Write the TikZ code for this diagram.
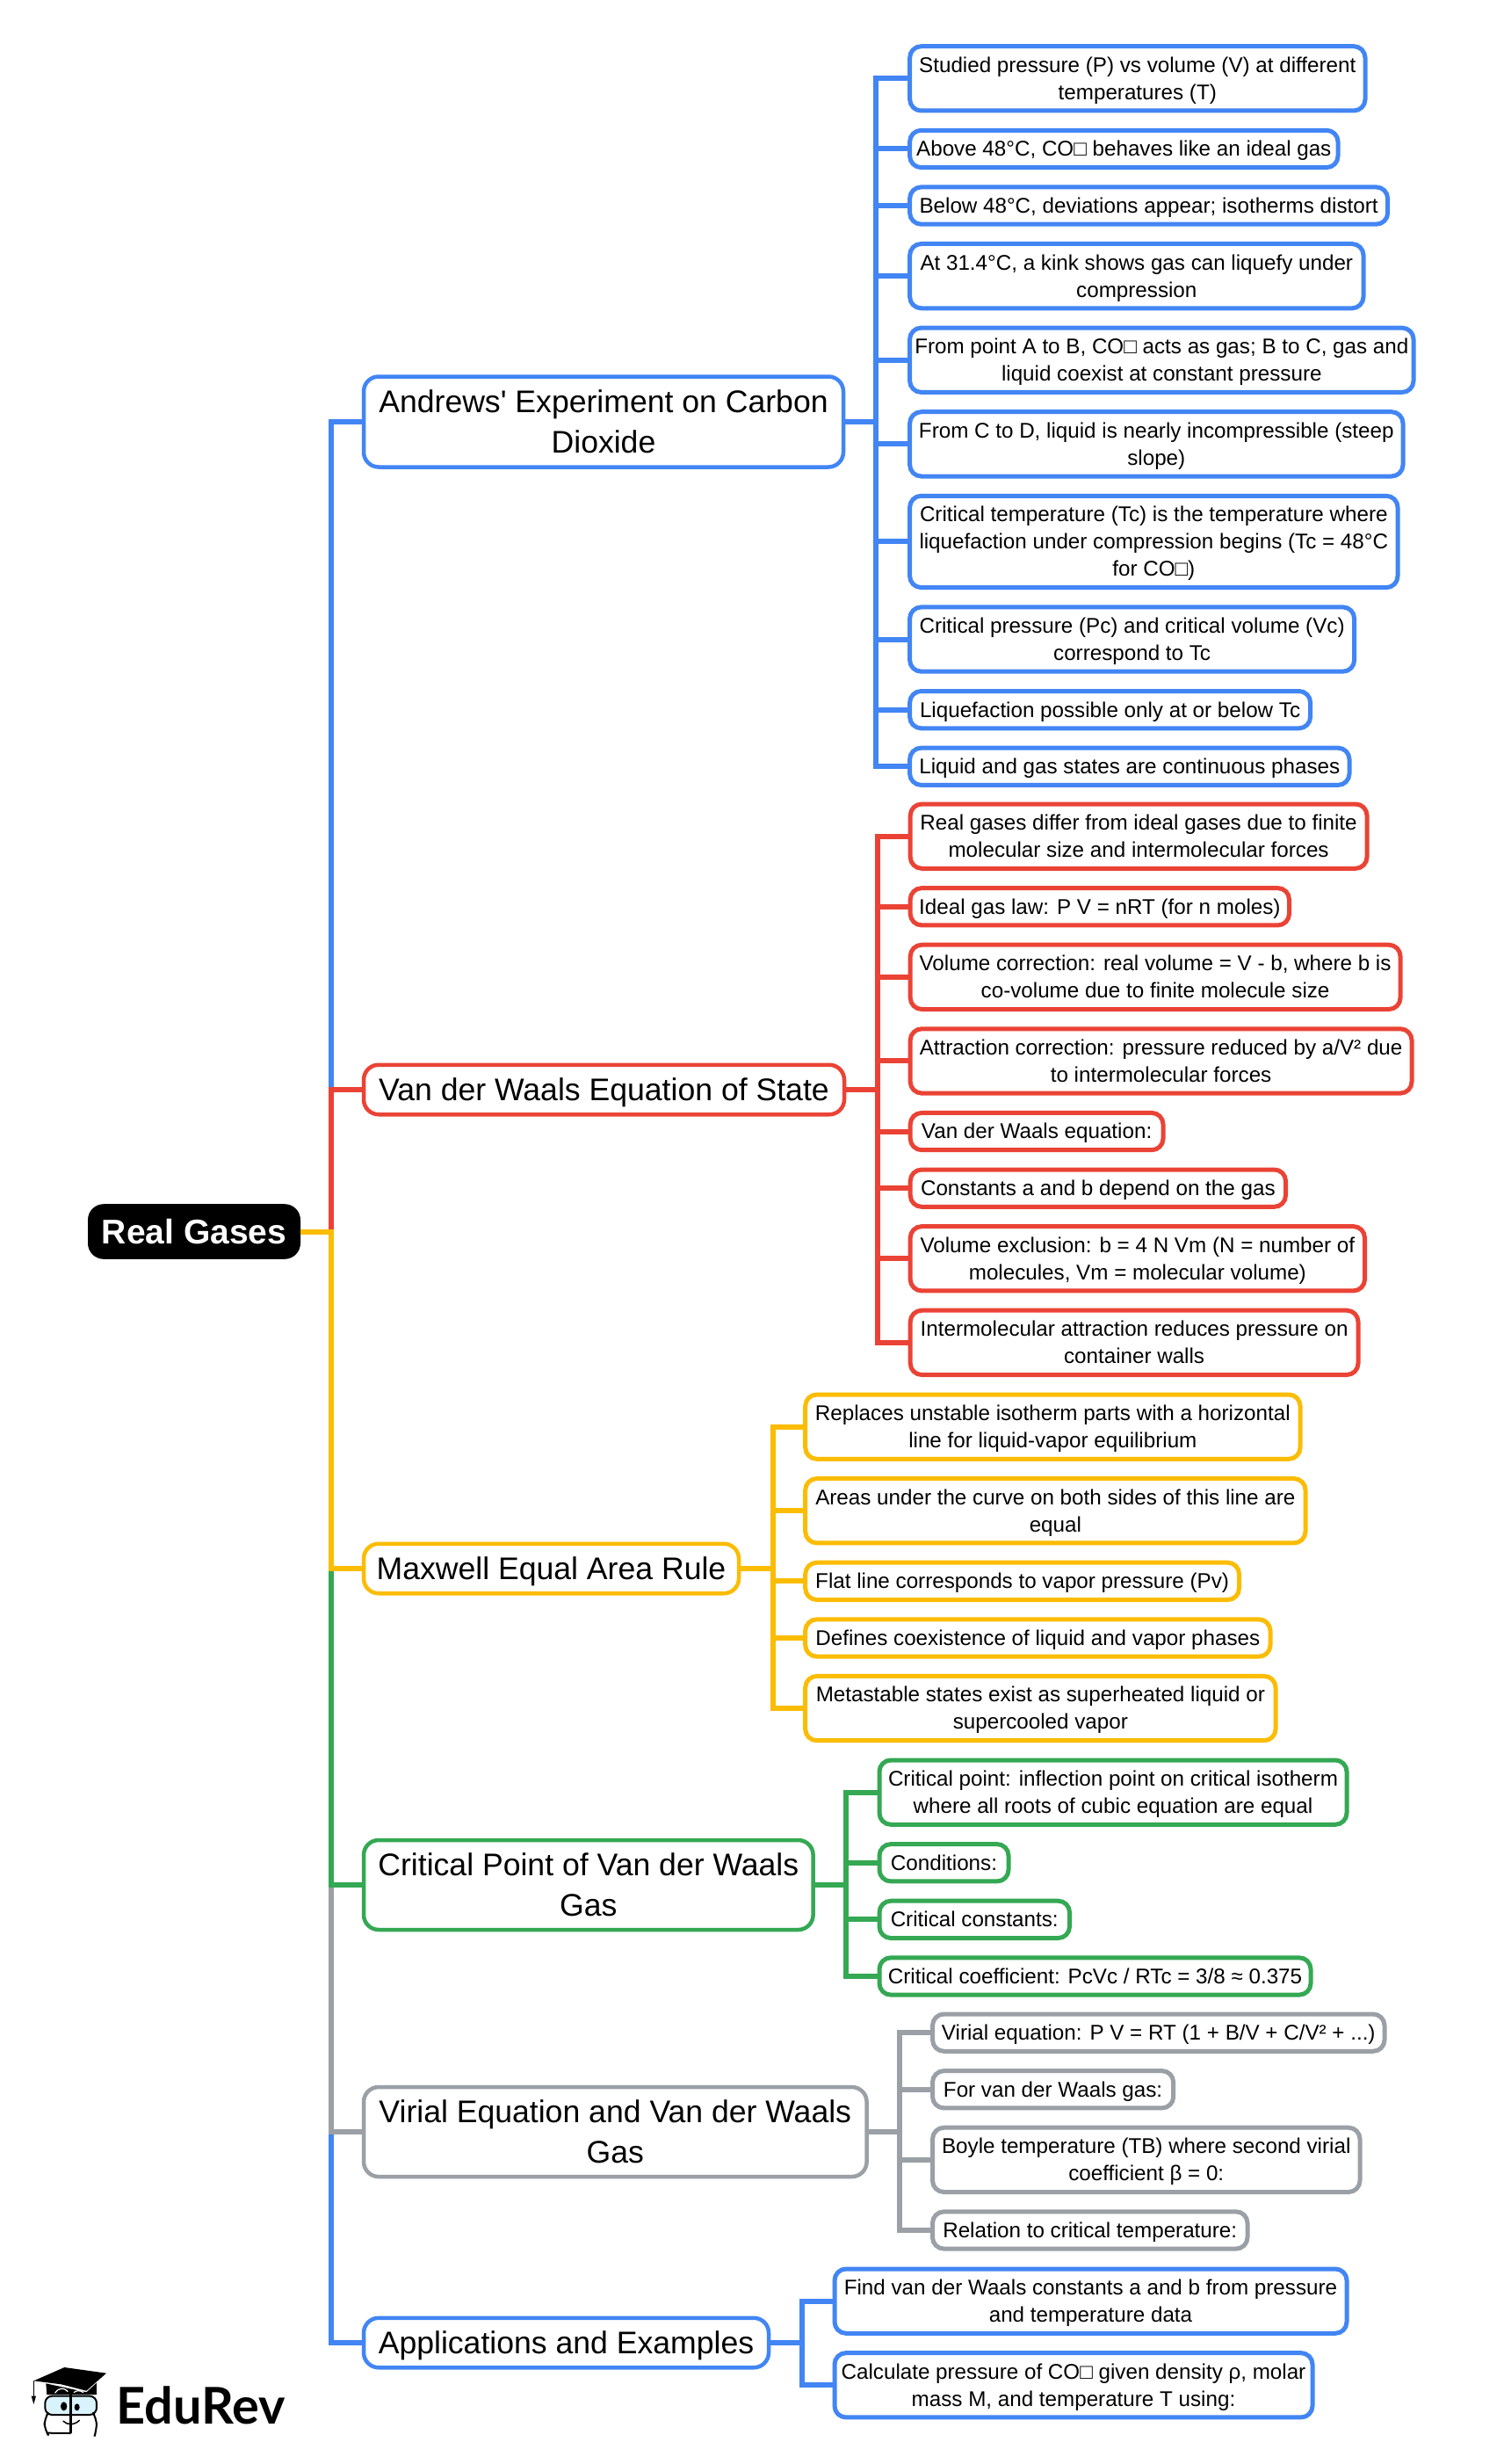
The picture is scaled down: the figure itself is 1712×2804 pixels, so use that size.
\documentclass[tikz,border=0pt]{standalone}
\usepackage{fontspec}
\setmainfont{Liberation Sans}
\newfontfamily\logofont{Lato}
\usetikzlibrary{positioning}
\definecolor{gblue}{HTML}{4285F4}
\definecolor{gred}{HTML}{EA4335}
\definecolor{gyellow}{HTML}{FBBC04}
\definecolor{ggreen}{HTML}{34A853}
\definecolor{ggray}{HTML}{9AA0A6}
\newcommand{\lowstrut}{\rule[-.23\baselineskip]{0pt}{\baselineskip}}
\tikzstyle{root} = [rectangle, fill=black, text=white, rounded corners=18pt, inner sep=0pt, outer sep=0pt,
    minimum width=242, minimum height=62.6, font=\fontsize{39}{46}\selectfont\bfseries]
\tikzstyle{head} = [rectangle, draw, fill=white, rounded corners=17pt, inner sep=0pt, outer sep=0pt,
    line width=4.5pt, align=center, anchor=west, font=\fontsize{35.6}{46}\selectfont,
    execute at end node=\lowstrut]
\tikzstyle{leaf} = [rectangle, draw, fill=white, rounded corners=13pt, inner sep=0pt, outer sep=0pt,
    line width=5pt, align=center, font=\fontsize{24.2}{31}\selectfont,
    execute at end node=\lowstrut]
\tikzstyle{oneline} = [minimum height=42.3]
\tikzstyle{twoline} = [minimum height=73.3]
\tikzstyle{threeline} = [minimum height=104.3]
\tikzstyle{first} = [anchor=north west]
\tikzstyle{under} = [below right=22.3pt and 0pt of #1]
\tikzstyle{link} = [draw, line width=6pt]
\tikzstyle{bluehead} = [head, draw=gblue]
\tikzstyle{redhead} = [head, draw=gred]
\tikzstyle{yellowhead} = [head, draw=gyellow]
\tikzstyle{greenhead} = [head, draw=ggreen]
\tikzstyle{grayhead} = [head, draw=ggray]
\tikzstyle{blueleaf} = [leaf, draw=gblue]
\tikzstyle{redleaf} = [leaf, draw=gred]
\tikzstyle{yellowleaf} = [leaf, draw=gyellow]
\tikzstyle{greenleaf} = [leaf, draw=ggreen]
\tikzstyle{grayleaf} = [leaf, draw=ggray]
\tikzstyle{bluelink} = [link, draw=gblue]
\tikzstyle{redlink} = [link, draw=gred]
\tikzstyle{yellowlink} = [link, draw=gyellow]
\tikzstyle{greenlink} = [link, draw=ggreen]
\tikzstyle{graylink} = [link, draw=ggray]
\begin{document}
\begin{tikzpicture}[x=1pt, y=-1pt]
    \useasboundingbox (0,0) rectangle (1712,2804);
    % Place nodes
    \node [root] (realGases) at (221,1401.5) {Real Gases};
    \node [bluehead, minimum width=546, minimum height=103] (andrews) at (414,480) {\lowstrut Andrews\textquotesingle{} Experiment on Carbon\\Dioxide};
    \node [redhead, minimum width=547, minimum height=56.5] (vanDerWaals) at (414,1240) {\lowstrut Van der Waals Equation of State};
    \node [yellowhead, minimum width=427, minimum height=56.5] (maxwell) at (414,1785) {\lowstrut Maxwell Equal Area Rule};
    \node [greenhead, minimum width=511.6, minimum height=102] (critical) at (414,2145) {\lowstrut Critical Point of Van der Waals\\Gas};
    \node [grayhead, minimum width=572.6, minimum height=102] (virial) at (414,2426) {\lowstrut Virial Equation and Van der Waals\\Gas};
    \node [bluehead, minimum width=461, minimum height=56.5] (applications) at (414,2666) {\lowstrut Applications and Examples};

    % Andrews leaves
    \node [blueleaf, twoline, first, minimum width=518.4] (andrewsA) at (1035.6,52.7) {\lowstrut Studied pressure (P) vs volume (V) at different\\temperatures (T)};
    \node [blueleaf, oneline, under=andrewsA.south west, minimum width=487.4] (andrewsB) {\lowstrut Above 48°C, CO□ behaves like an ideal gas};
    \node [blueleaf, oneline, under=andrewsB.south west, minimum width=544] (andrewsC) {\lowstrut Below 48°C, deviations appear; isotherms distort};
    \node [blueleaf, twoline, under=andrewsC.south west, minimum width=516.4] (andrewsD) {\lowstrut At 31.4°C, a kink shows gas can liquefy under\\compression};
    \node [blueleaf, twoline, under=andrewsD.south west, minimum width=573.4] (andrewsE) {\lowstrut From point A to B, CO□ acts as gas; B to C, gas and\\liquid coexist at constant pressure};
    \node [blueleaf, twoline, under=andrewsE.south west, minimum width=561.4] (andrewsF) {\lowstrut From C to D, liquid is nearly incompressible (steep\\slope)};
    \node [blueleaf, threeline, under=andrewsF.south west, minimum width=555.4] (andrewsG) {\lowstrut Critical temperature (Tc) is the temperature where\\liquefaction under compression begins (Tc = 48°C\\for CO□)};
    \node [blueleaf, twoline, under=andrewsG.south west, minimum width=506] (andrewsH) {\lowstrut Critical pressure (Pc) and critical volume (Vc)\\correspond to Tc};
    \node [blueleaf, oneline, under=andrewsH.south west, minimum width=456] (andrewsI) {\lowstrut Liquefaction possible only at or below Tc};
    \node [blueleaf, oneline, under=andrewsI.south west, minimum width=500.4] (andrewsJ) {\lowstrut Liquid and gas states are continuous phases};

    % Van der Waals leaves
    \node [redleaf, twoline, first, minimum width=519.8] (waalsA) at (1036.2,915) {\lowstrut Real gases differ from ideal gases due to finite\\molecular size and intermolecular forces};
    \node [redleaf, oneline, under=waalsA.south west, minimum width=431.3] (waalsB) {\lowstrut Ideal gas law: P V = nRT (for n moles)};
    \node [redleaf, twoline, under=waalsB.south west, minimum width=557.8] (waalsC) {\lowstrut Volume correction: real volume = V - b, where b is\\co-volume due to finite molecule size};
    \node [redleaf, twoline, under=waalsC.south west, minimum width=570.8] (waalsD) {\lowstrut Attraction correction: pressure reduced by a/V² due\\to intermolecular forces};
    \node [redleaf, oneline, under=waalsD.south west, minimum width=287.8] (waalsE) {\lowstrut Van der Waals equation:};
    \node [redleaf, oneline, under=waalsE.south west, minimum width=427.3] (waalsF) {\lowstrut Constants a and b depend on the gas};
    \node [redleaf, twoline, under=waalsF.south west, minimum width=517.3] (waalsG) {\lowstrut Volume exclusion: b = 4 N Vm (N = number of\\molecules, Vm = molecular volume)};
    \node [redleaf, twoline, under=waalsG.south west, minimum width=509.8] (waalsH) {\lowstrut Intermolecular attraction reduces pressure on\\container walls};

    % Maxwell leaves
    \node [yellowleaf, twoline, first, minimum width=563.3] (maxwellA) at (916.7,1587) {\lowstrut Replaces unstable isotherm parts with a horizontal\\line for liquid-vapor equilibrium};
    \node [yellowleaf, twoline, under=maxwellA.south west, minimum width=569.3] (maxwellB) {\lowstrut Areas under the curve on both sides of this line are\\equal};
    \node [yellowleaf, oneline, under=maxwellB.south west, minimum width=493.8] (maxwellC) {\lowstrut Flat line corresponds to vapor pressure (Pv)};
    \node [yellowleaf, oneline, under=maxwellC.south west, minimum width=529.3] (maxwellD) {\lowstrut Defines coexistence of liquid and vapor phases};
    \node [yellowleaf, twoline, under=maxwellD.south west, minimum width=535.3] (maxwellE) {\lowstrut Metastable states exist as superheated liquid or\\supercooled vapor};

    % Critical point leaves
    \node [greenleaf, twoline, first, minimum width=532] (criticalA) at (1001,2003) {\lowstrut Critical point: inflection point on critical isotherm\\where all roots of cubic equation are equal};
    \node [greenleaf, oneline, under=criticalA.south west, minimum width=147] (criticalB) {\lowstrut Conditions:};
    \node [greenleaf, oneline, under=criticalB.south west, minimum width=216.5] (criticalC) {\lowstrut Critical constants:};
    \node [greenleaf, oneline, under=criticalC.south west, minimum width=491] (criticalD) {\lowstrut Critical coefficient: PcVc / RTc = 3/8 ≈ 0.375};

    % Virial leaves
    \node [grayleaf, oneline, first, minimum width=514.5] (virialA) at (1061.5,2292) {\lowstrut Virial equation: P V = RT (1 + B/V + C/V² + ...)};
    \node [grayleaf, oneline, under=virialA.south west, minimum width=274.2] (virialB) {\lowstrut For van der Waals gas:};
    \node [grayleaf, twoline, under=virialB.south west, minimum width=486.5] (virialC) {\lowstrut Boyle temperature (TB) where second virial\\coefficient β = 0:};
    \node [grayleaf, oneline, under=virialC.south west, minimum width=358.5] (virialD) {\lowstrut Relation to critical temperature:};

    % Applications leaves
    \node [blueleaf, twoline, first, minimum width=583] (applicationsA) at (950,2582) {\lowstrut Find van der Waals constants a and b from pressure\\and temperature data};
    \node [blueleaf, twoline, under=applicationsA.south west, minimum width=544] (applicationsB) {\lowstrut Calculate pressure of CO□ given density ρ, molar\\mass M, and temperature T using:};

    % Spines
    \coordinate (trunk) at (377,1401.5);
    \coordinate (spineAndrews) at (997.3,480);
    \coordinate (spineWaals) at (998.8,1240);
    \coordinate (spineMaxwell) at (880,1785);
    \coordinate (spineCritical) at (962.7,2145);
    \coordinate (spineVirial) at (1023.7,2426);
    \coordinate (spineApplications) at (912.5,2666);

    % Trunk, later paths lie over earlier ones
    \path [bluelink] (realGases.east) -- (trunk) |- (andrews.west);
    \path [bluelink] (realGases.east) -- (trunk) |- (applications.west);
    \path [graylink] (realGases.east) -- (trunk) |- (virial.west);
    \path [greenlink] (realGases.east) -- (trunk) |- (critical.west);
    \path [redlink] (realGases.east) -- (trunk) |- (vanDerWaals.west);
    \path [yellowlink] (realGases.east) -- (trunk) |- (maxwell.west);

    \path [bluelink] (andrews.east) -- (spineAndrews) |- (andrewsA.west);
    \path [bluelink] (andrews.east) -- (spineAndrews) |- (andrewsB.west);
    \path [bluelink] (andrews.east) -- (spineAndrews) |- (andrewsC.west);
    \path [bluelink] (andrews.east) -- (spineAndrews) |- (andrewsD.west);
    \path [bluelink] (andrews.east) -- (spineAndrews) |- (andrewsE.west);
    \path [bluelink] (andrews.east) -- (spineAndrews) |- (andrewsF.west);
    \path [bluelink] (andrews.east) -- (spineAndrews) |- (andrewsG.west);
    \path [bluelink] (andrews.east) -- (spineAndrews) |- (andrewsH.west);
    \path [bluelink] (andrews.east) -- (spineAndrews) |- (andrewsI.west);
    \path [bluelink] (andrews.east) -- (spineAndrews) |- (andrewsJ.west);

    \path [redlink] (vanDerWaals.east) -- (spineWaals) |- (waalsA.west);
    \path [redlink] (vanDerWaals.east) -- (spineWaals) |- (waalsB.west);
    \path [redlink] (vanDerWaals.east) -- (spineWaals) |- (waalsC.west);
    \path [redlink] (vanDerWaals.east) -- (spineWaals) |- (waalsD.west);
    \path [redlink] (vanDerWaals.east) -- (spineWaals) |- (waalsE.west);
    \path [redlink] (vanDerWaals.east) -- (spineWaals) |- (waalsF.west);
    \path [redlink] (vanDerWaals.east) -- (spineWaals) |- (waalsG.west);
    \path [redlink] (vanDerWaals.east) -- (spineWaals) |- (waalsH.west);

    \path [yellowlink] (maxwell.east) -- (spineMaxwell) |- (maxwellA.west);
    \path [yellowlink] (maxwell.east) -- (spineMaxwell) |- (maxwellB.west);
    \path [yellowlink] (maxwell.east) -- (spineMaxwell) |- (maxwellC.west);
    \path [yellowlink] (maxwell.east) -- (spineMaxwell) |- (maxwellD.west);
    \path [yellowlink] (maxwell.east) -- (spineMaxwell) |- (maxwellE.west);

    \path [greenlink] (critical.east) -- (spineCritical) |- (criticalA.west);
    \path [greenlink] (critical.east) -- (spineCritical) |- (criticalB.west);
    \path [greenlink] (critical.east) -- (spineCritical) |- (criticalC.west);
    \path [greenlink] (critical.east) -- (spineCritical) |- (criticalD.west);

    \path [graylink] (virial.east) -- (spineVirial) |- (virialA.west);
    \path [graylink] (virial.east) -- (spineVirial) |- (virialB.west);
    \path [graylink] (virial.east) -- (spineVirial) |- (virialC.west);
    \path [graylink] (virial.east) -- (spineVirial) |- (virialD.west);

    \path [bluelink] (applications.east) -- (spineApplications) |- (applicationsA.west);
    \path [bluelink] (applications.east) -- (spineApplications) |- (applicationsB.west);

    % Logo
    \node [anchor=base west, inner sep=0pt, font=\logofont\fontsize{57.6}{58}\selectfont\bfseries] (eduRev) at (132,2758) {EduRev};
    \begin{scope}[shift={(20,2670)}, x=0.3333pt, y=-0.3333pt]
        \fill [black] (55,118) -- (160,72) -- (303,92) -- (235,152) -- (150,130) -- cycle;
        \fill [black] (97,127) -- (235,157) -- (270,125) -- (270,165) -- (100,165) -- cycle;
        \draw [white, line width=1.2pt] (128,160) .. controls (140,140) and (160,140) .. (172,155);
        \draw [white, line width=1.2pt] (192,158) .. controls (200,150) and (215,150) .. (225,158);
        \draw [black, line width=1.5pt] (55,118) -- (55,172);
        \fill [black] (47,170) -- (63,170) -- (55,198) -- cycle;
        \draw [black, fill=cyan!15, line width=2pt, rounded corners=8pt] (94,170) rectangle (270,234);
        \draw [black, line width=2pt, rounded corners=8pt] (100,296) -- (92,285) -- (92,246) -- (100,234);
        \draw [black, line width=2pt, rounded corners=8pt] (262,234) -- (270,246) -- (270,285) -- (266,297);
        \draw [black, line width=2pt] (100,296) -- (182,297);
        \draw [black, line width=2.5pt] (182,165) -- (182,298);
        \fill [black] (158,205) ellipse [x radius=11, y radius=15];
        \fill [black] (203,208) ellipse [x radius=9, y radius=12];
        \draw [black, line width=1.5pt] (155,255) .. controls (170,270) and (195,270) .. (212,252);
    \end{scope}
\end{tikzpicture}
\end{document}
